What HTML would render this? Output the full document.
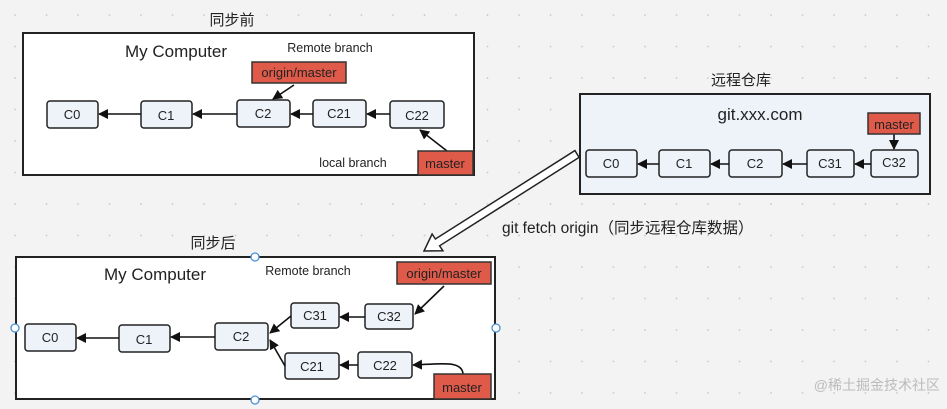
<!DOCTYPE html>
<html><head><meta charset="utf-8"><style>
html,body{margin:0;padding:0;background:#f3f3f4;}
svg{display:block;}
text{font-family:"Liberation Sans","Noto Sans CJK SC",sans-serif;fill:#222;}
</style></head><body>
<svg width="947" height="409" viewBox="0 0 947 409" xmlns="http://www.w3.org/2000/svg">
<defs>
<pattern id="dots" width="31.5" height="31.5" patternUnits="userSpaceOnUse" x="14" y="14">
<circle cx="1" cy="1" r="0.9" fill="#c8c8cc"/>
</pattern>
<marker id="ah" markerWidth="10" markerHeight="10" refX="9" refY="5" orient="auto" markerUnits="userSpaceOnUse">
<path d="M0,0 L10,5 L0,10 z" fill="#111"/>
</marker>
</defs>
<rect width="947" height="409" fill="#f3f3f4"/>
<rect width="947" height="409" fill="url(#dots)"/>

<!-- Top box -->
<text x="232" y="25" font-size="15" text-anchor="middle">同步前</text>
<rect x="23" y="33" width="451" height="142" fill="#fff" stroke="#222" stroke-width="2"/>
<text x="176" y="57" font-size="17" text-anchor="middle">My Computer</text>
<text x="330" y="52" font-size="12.5" text-anchor="middle">Remote branch</text>
<text x="353" y="167" font-size="12.5" text-anchor="middle">local branch</text>
<g stroke="#222" stroke-width="1.5" fill="#eef3fa">
<rect x="47" y="101" width="51" height="27" rx="3"/>
<rect x="141" y="101" width="51" height="27" rx="3"/>
<rect x="237" y="100" width="53" height="27" rx="3"/>
<rect x="313" y="100" width="53" height="27" rx="3"/>
<rect x="390" y="101" width="54" height="27" rx="3"/>
</g>
<g font-size="13" text-anchor="middle">
<text x="72" y="119">C0</text><text x="166" y="120">C1</text><text x="263" y="118">C2</text><text x="339" y="118">C21</text><text x="417" y="120">C22</text>
</g>
<g stroke="#111" stroke-width="1.6" marker-end="url(#ah)">
<line x1="141" y1="114" x2="99" y2="114"/>
<line x1="237" y1="114" x2="193" y2="114"/>
<line x1="313" y1="114" x2="291" y2="114"/>
<line x1="390" y1="114" x2="367" y2="114"/>
<line x1="294" y1="85" x2="273" y2="99"/>
<line x1="447" y1="151" x2="420" y2="130"/>
</g>
<g stroke="#333" stroke-width="1.5" fill="#e05a4a">
<rect x="252" y="62" width="94" height="21"/>
<rect x="418" y="151" width="55" height="24"/>
</g>
<text x="299" y="77" font-size="13" text-anchor="middle">origin/master</text>
<text x="445" y="168" font-size="13" text-anchor="middle">master</text>

<!-- Remote -->
<text x="741" y="85" font-size="15" text-anchor="middle">远程仓库</text>
<rect x="580" y="94" width="350" height="100" fill="#eef3fa" stroke="#222" stroke-width="2"/>
<text x="760" y="120" font-size="17" text-anchor="middle">git.xxx.com</text>
<g stroke="#222" stroke-width="1.5" fill="#eef3fa">
<rect x="586" y="150" width="51" height="27" rx="3"/>
<rect x="659" y="150" width="51" height="27" rx="3"/>
<rect x="729" y="150" width="53" height="27" rx="3"/>
<rect x="807" y="150" width="47" height="27" rx="3"/>
<rect x="871" y="150" width="47" height="27" rx="3"/>
</g>
<g font-size="13" text-anchor="middle">
<text x="611" y="168">C0</text><text x="684" y="168">C1</text><text x="755" y="168">C2</text><text x="830" y="168">C31</text><text x="894" y="167">C32</text>
</g>
<g stroke="#111" stroke-width="1.6" marker-end="url(#ah)">
<line x1="659" y1="164" x2="638" y2="164"/>
<line x1="729" y1="164" x2="711" y2="164"/>
<line x1="807" y1="164" x2="783" y2="164"/>
<line x1="871" y1="164" x2="855" y2="164"/>
<line x1="894" y1="134" x2="894" y2="149"/>
</g>
<rect x="868" y="113" width="52" height="21" fill="#e05a4a" stroke="#333" stroke-width="1.5"/>
<text x="894" y="129" font-size="13" text-anchor="middle">master</text>

<!-- hollow arrow -->
<polygon points="579.1,157.4 439.6,245.8 442.9,250.8 424,251 432.1,234 435.4,239 574.9,150.6" fill="#fff" stroke="#222" stroke-width="1.5" stroke-linejoin="miter"/>
<text x="502" y="233" font-size="15.5">git fetch origin（同步远程仓库数据）</text>

<!-- Bottom -->
<text x="213" y="248" font-size="15" text-anchor="middle">同步后</text>
<rect x="16" y="257" width="479" height="142" fill="#fff" stroke="#222" stroke-width="2"/>
<text x="155" y="280" font-size="17" text-anchor="middle">My Computer</text>
<text x="308" y="275" font-size="12.5" text-anchor="middle">Remote branch</text>
<g stroke="#222" stroke-width="1.5" fill="#eef3fa">
<rect x="25" y="324" width="51" height="27" rx="3"/>
<rect x="119" y="325" width="51" height="27" rx="3"/>
<rect x="215" y="323" width="53" height="27" rx="3"/>
<rect x="291" y="303" width="48" height="25" rx="3"/>
<rect x="365" y="304" width="48" height="25" rx="3"/>
<rect x="285" y="353" width="54" height="26" rx="3"/>
<rect x="358" y="352" width="54" height="26" rx="3"/>
</g>
<g font-size="13" text-anchor="middle">
<text x="50" y="342">C0</text><text x="144" y="344">C1</text><text x="241" y="341">C2</text><text x="315" y="320">C31</text><text x="389" y="321">C32</text><text x="312" y="371">C21</text><text x="385" y="370">C22</text>
</g>
<g stroke="#111" stroke-width="1.6" marker-end="url(#ah)" fill="none">
<line x1="119" y1="338" x2="77" y2="338"/>
<line x1="215" y1="337" x2="171" y2="337"/>
<line x1="291" y1="316" x2="270" y2="333"/>
<line x1="285" y1="366" x2="270" y2="340"/>
<line x1="365" y1="317" x2="340" y2="317"/>
<line x1="358" y1="365" x2="340" y2="365"/>
<line x1="444" y1="286" x2="415" y2="314"/>
<path d="M463,374 C462,360 440,364 413,365"/>
</g>
<g stroke="#333" stroke-width="1.5" fill="#e05a4a">
<rect x="397" y="262" width="94" height="22"/>
<rect x="434" y="374" width="57" height="25"/>
</g>
<text x="444" y="278" font-size="13" text-anchor="middle">origin/master</text>
<text x="462" y="392" font-size="13" text-anchor="middle">master</text>
<g fill="#fff" stroke="#4a90d9" stroke-width="1.3">
<circle cx="255" cy="257" r="4"/><circle cx="255" cy="400" r="4"/>
<circle cx="15" cy="328" r="4"/><circle cx="496" cy="328" r="4"/>
</g>
<text x="940" y="390" font-size="14" text-anchor="end" style="fill:#bbb">@稀土掘金技术社区</text>
</svg>
</body></html>
